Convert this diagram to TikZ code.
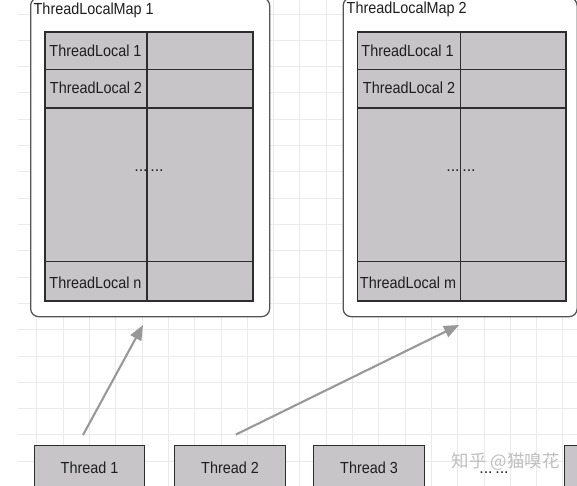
\documentclass[tikz,border=0pt]{standalone}
\usepackage{fontspec}
\usepackage{graphicx}
\setmainfont{Liberation Sans}
\newfontfamily\cjk{Noto Sans CJK SC}
\usetikzlibrary{arrows.meta}
\definecolor{cellfill}{RGB}{200,197,201}
\definecolor{gridc}{RGB}{234,234,234}
\definecolor{arrc}{RGB}{152,152,152}
\definecolor{txt}{RGB}{30,30,30}
\definecolor{linec}{RGB}{45,45,45}
\definecolor{boxc}{RGB}{85,85,85}
\newcommand\lbltext[1]{\scalebox{0.9}[1]{#1}}
\begin{document}
\begin{tikzpicture}[x=1pt,y=-1pt,
  lbl/.style={text=txt,font=\fontsize{16}{19}\selectfont,inner sep=0pt},
  mapbox/.style={draw=boxc,line width=1.3pt,fill=white,rounded corners=8pt,anchor=north west},
  celldraw/.style={draw=linec,line width=1.1pt,fill=cellfill},
  cellline/.style={draw=linec,line width=1.1pt},
  threadbox/.style={draw=linec,line width=1.1pt,fill=cellfill,anchor=north west,minimum height=45pt},
  arr/.style={draw=arrc,line width=2.1pt,-{Triangle[length=15pt,width=12pt]}},
  gridline/.style={draw=gridc,line width=0.8pt}]
\useasboundingbox (0,0) rectangle (577,486);
\clip (0,0) rectangle (577,486);
\fill[white] (0,0) rectangle (577,486);
% grid
\foreach \i in {0,...,17} \draw[gridline] (18,{14+26.3*\i}) -- (577,{14+26.3*\i});
\foreach \i in {1,...,21} \draw[gridline] ({10.5+26.3*\i},0) -- ({10.5+26.3*\i},486);
% map 1
\node[mapbox,minimum width=239pt,minimum height=319pt] (map1) at (30,-3) {};
\node[lbl,anchor=west] (map1title) at (33.5,10) {\lbltext{ThreadLocalMap 1}};
\draw[celldraw] (45,32) rectangle (253,301);
\draw[cellline] (147,32) -- (147,301);
\draw[cellline] (45,69.5) -- (253,69.5);
\draw[cellline] (45,108) -- (253,108);
\draw[cellline] (45,261.7) -- (253,261.7);
\node[lbl] (m1r1) at (95.5,50.5) {\lbltext{ThreadLocal 1}};
\node[lbl] (m1r2) at (96,88) {\lbltext{ThreadLocal 2}};
\node[lbl] (m1rn) at (95.5,283) {\lbltext{ThreadLocal n}};
\node[lbl] (m1dots) at (149,171) {...\,...};
% map 2
\node[mapbox,minimum width=234pt,minimum height=319pt] (map2) at (342.5,-3) {};
\node[lbl,anchor=west] (map2title) at (346.5,9.5) {\lbltext{ThreadLocalMap 2}};
\draw[celldraw] (357.3,32) rectangle (566,301);
\draw[cellline] (460.7,32) -- (460.7,301);
\draw[cellline] (357.3,69.5) -- (566,69.5);
\draw[cellline] (357.3,108) -- (566,108);
\draw[cellline] (357.3,261.7) -- (566,261.7);
\node[lbl] (m2r1) at (407.5,50.5) {\lbltext{ThreadLocal 1}};
\node[lbl] (m2r2) at (409,88) {\lbltext{ThreadLocal 2}};
\node[lbl] (m2rm) at (408,283) {\lbltext{ThreadLocal m}};
\node[lbl] (m2dots) at (461,171) {...\,...};
% watermark
\node[text=gray!50,font=\cjk\fontsize{17.5}{20}\selectfont,anchor=west,inner sep=0pt] (wm) at (451.5,461.5) {知乎 @猫嗅花};
\node[lbl] (tdots) at (494,473) {...\,...};
% threads
\node[threadbox,minimum width=110pt] (th1) at (34,445) {};
\node[lbl] at (th1.center) {\lbltext{Thread 1}};
\node[threadbox,minimum width=111pt] (th2) at (174,445) {};
\node[lbl] at (th2.center) {\lbltext{Thread 2}};
\node[threadbox,minimum width=111pt] (th3) at (313,445) {};
\node[lbl] at (th3.center) {\lbltext{Thread 3}};
\node[threadbox,minimum width=40pt] (th4) at (563.5,445) {};
% arrows
\coordinate (a1s) at (83,435);
\coordinate (a1e) at (143,325);
\coordinate (a2s) at (236,434.5);
\coordinate (a2e) at (459,325);
\draw[arr] (a1s) -- (a1e);
\draw[arr] (a2s) -- (a2e);
\end{tikzpicture}
\end{document}
